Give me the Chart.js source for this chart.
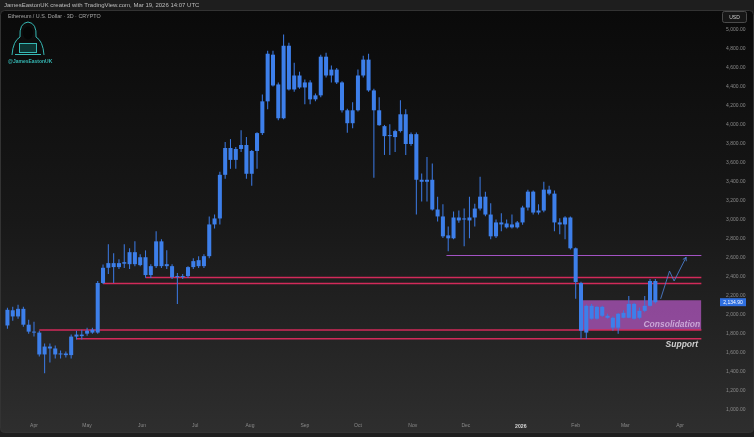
<!DOCTYPE html>
<html>
<head>
<meta charset="utf-8">
<title>Ethereum / U.S. Dollar - 3D</title>
<script src="https://cdn.jsdelivr.net/npm/chart.js@4.4.1/dist/chart.umd.min.js"></script>
<style>
  html, body { margin: 0; padding: 0; background: #1c1c1c; }
  #wrap { width: 754px; height: 437px; position: relative; }
</style>
</head>
<body>
<div id="wrap"><canvas id="ethChart"></canvas></div>
<script>
// ETH/USD 3-day candles (days counted from 1 Apr 2025)
const firstCandleDay = -15;
const candleStep = 3;

const opens = [1890,2050,1985,2065,1898,1825,1815,1585,1668,1648, 1585,1595,1578,1773,1794,1804,1846,1815,2337,2497,
  2546,2504,2540,2535,2661,2525,2608,2420,2514,2775, 2514,2514,2399,2410,2410,2504,2577,2514,2619,2953,
  3016,3475,3757,3632,3747,3789,3486,3726,3914,4248, 4739,4426,4070,4833,4373,4520,4394,4447,4269,4311,
  4718,4520,4582,4447,4154,4018,4154,4520,4687,4363, 4154,3987,3882,3872,3935,4112,3799,3903,3423,3402,
  3423,3110,3037,2807,2807,3026,3005,2995,3026,3120, 3245,3057,2828,2974,2963,2922,2922,2974,3131,3298,
  3078,3099,3319,3277,2974,2953,3026,2702,2337,1815, 2097,1961,2086,1992,1971,1867,2023,1971,2117,1971,
  2044,2097,2358];
const highs = [2076,2086,2107,2086,1950,1929,1835,1700,1700,1679, 1627,1616,1794,1835,1846,1867,1867,2358,2532,2744,
  2650,2587,2744,2702,2775,2640,2680,2535,2880,2796, 2681,2535,2441,2431,2514,2598,2619,2640,3037,3057,
  3507,3820,3851,3768,3945,3872,3736,3924,4321,4781, 4781,4447,4951,4864,4655,4560,4478,4470,4330,4739,
  4760,4624,4600,4460,4170,4238,4582,4728,4749,4380, 4290,4000,4008,3950,4259,4164,3920,3920,3490,3663,
  3594,3245,3165,2932,3090,3099,3120,3245,3170,3454, 3298,3175,3005,3070,3005,3057,2990,3150,3319,3310,
  3165,3402,3360,3310,3019,3040,3037,2710,2350,2110, 2117,2097,2097,2013,1985,2020,2050,2201,2130,2080,
  2201,2379,2379];
const lows = [1856,1940,1961,1877,1804,1773,1564,1386,1501,1543, 1543,1553,1543,1742,1742,1783,1804,1804,2326,2431,
  2337,2483,2494,2483,2514,2514,2392,2389,2494,2494, 2483,2379,2117,2379,2389,2483,2494,2494,2598,2911,
  2953,3434,3538,3538,3716,3434,3360,3538,3893,4164, 4405,4050,4060,4363,4350,4380,4217,4217,4250,4290,
  4500,4447,4430,4130,3917,3966,4140,4500,4350,3444, 3990,3684,3684,3716,3920,3684,3780,3057,3193,3193,
  3100,2984,2810,2671,2796,2970,2723,2807,2932,3100, 3040,2796,2810,2880,2911,2911,2910,2950,3100,3057,
  3057,3080,3260,2880,2849,2796,2690,2170,1749,1749, 1950,1950,1980,1961,1835,1804,1965,1965,1950,1955,
  2030,2090,2120];
const closes = [2055,1985,2065,1898,1825,1815,1585,1668,1648,1585, 1595,1578,1773,1794,1778,1835,1815,2337,2497,2546,
  2504,2546,2556,2661,2535,2608,2420,2514,2775,2514, 2535,2399,2410,2399,2504,2567,2514,2619,2953,3016,
  3475,3757,3632,3747,3789,3486,3726,3914,4248,4749, 4415,4070,4833,4373,4520,4394,4447,4269,4311,4718,
  4520,4582,4447,4154,4018,4154,4520,4687,4363,4154, 3997,3882,3893,3935,4112,3799,3903,3423,3402,3423,
  3110,3037,2828,2838,3026,2995,3016,3026,3120,3245, 3057,2828,2974,2953,2922,2953,2974,3131,3298,3078,
  3099,3319,3277,2974,2953,3026,2702,2347,1835,2097, 1961,2086,1992,1971,1867,2013,1971,2117,1961,2044,
  2097,2358,2134.90];

const monthTicks = [0, 30, 61, 91, 122, 153, 183, 214, 244, 275, 306, 334, 365];
const monthLabels = ['Apr', 'May', 'Jun', 'Jul', 'Aug', 'Sep', 'Oct', 'Nov', 'Dec', '2026', 'Feb', 'Mar', 'Apr'];
const priceTicks = [1000, 1200, 1400, 1600, 1800, 2000, 2200, 2400, 2600, 2800, 3000,
  3200, 3400, 3600, 3800, 4000, 4200, 4400, 4600, 4800, 5000];

// drawn levels and notes
const levelPrices = [2394, 2331, 1843, 1749];
const levelStarts = [63, 39, 3, 24];
const levelEnd = 377;
const targetPrice = 2626;
const targetStart = 233;
const boxTop = 2154;
const boxBottom = 1843;
const boxStart = 309;
const arrowDays = [354, 359, 361.6, 368.4];
const arrowPrices = [2170, 2462, 2358, 2608];
const lastPrice = 2134.90;

const candleBlue = '#3d7fea';
const levelRed = '#d22a5a';
const teal = '#36b8b4';

Chart.defaults.font.family = "'Liberation Sans', Arial, sans-serif";

const candleDays = opens.map((_, i) => firstCandleDay + i * candleStep);

function segment(x1, x2, y) {
  return [{ x: x1, y }, { x: x2, y }];
}

const datasets = [];

// consolidation box (top fills down to bottom)
datasets.push({
  type: 'line', data: segment(boxStart, levelEnd, boxTop), borderWidth: 0, borderColor: 'transparent',
  pointRadius: 0, fill: '+1', backgroundColor: 'rgba(176, 86, 190, 0.76)', order: 20
});
datasets.push({
  type: 'line', data: segment(boxStart, levelEnd, boxBottom), borderWidth: 0, borderColor: 'transparent',
  pointRadius: 0, fill: false, order: 21
});

levelPrices.forEach((p, k) => {
  datasets.push({
    type: 'line', data: segment(levelStarts[k], levelEnd, p), borderColor: levelRed, borderWidth: 1.5,
    pointRadius: 0, fill: false, order: 10
  });
});
datasets.push({
  type: 'line', data: segment(targetStart, levelEnd, targetPrice), borderColor: '#a353c4', borderWidth: 1.1,
  pointRadius: 0, fill: false, order: 10
});

// wicks then bodies
datasets.push({
  type: 'bar', grouped: false, order: 2,
  data: candleDays.map((d, i) => ({ x: d, y: [lows[i], highs[i]] })),
  backgroundColor: '#3a76dc', barPercentage: 0.2, categoryPercentage: 1
});
datasets.push({
  type: 'bar', grouped: false, order: 1, minBarLength: 1,
  data: candleDays.map((d, i) => ({ x: d, y: [opens[i], closes[i]] })),
  backgroundColor: candleBlue, barPercentage: 0.76, categoryPercentage: 1
});

const arrowIndex = datasets.length;
datasets.push({
  type: 'line', data: arrowDays.map((d, i) => ({ x: d, y: arrowPrices[i] })),
  borderColor: '#4f86e0', borderWidth: 0.8, pointRadius: 0, fill: false, tension: 0, order: 0
});

function roundRect(ctx, x, y, w, h, r) {
  ctx.beginPath();
  ctx.moveTo(x + r, y);
  ctx.lineTo(x + w - r, y);
  ctx.quadraticCurveTo(x + w, y, x + w, y + r);
  ctx.lineTo(x + w, y + h - r);
  ctx.quadraticCurveTo(x + w, y + h, x + w - r, y + h);
  ctx.lineTo(x + r, y + h);
  ctx.quadraticCurveTo(x, y + h, x, y + h - r);
  ctx.lineTo(x, y + r);
  ctx.quadraticCurveTo(x, y, x + r, y);
  ctx.closePath();
}

const backdrop = {
  id: 'backdrop',
  beforeDraw(chart) {
    const { ctx, width, height } = chart;
    ctx.save();
    ctx.fillStyle = '#1e1e1e';
    ctx.fillRect(0, 0, width, height);
    const g = ctx.createLinearGradient(0, 11, 0, 432);
    g.addColorStop(0, '#0a0a0a');
    g.addColorStop(0.5, '#181818');
    g.addColorStop(1, '#2e2e2e');
    ctx.fillStyle = g;
    roundRect(ctx, 0.5, 10.5, width - 1, 422, 4);
    ctx.fill();
    ctx.strokeStyle = '#333';
    ctx.lineWidth = 1;
    ctx.stroke();
    ctx.restore();
  },
  afterDraw(chart) {
    const { ctx } = chart;
    const xs = chart.scales.x, ys = chart.scales.y;
    ctx.save();

    // header
    ctx.fillStyle = '#bdbdbd';
    ctx.font = "6px 'Liberation Sans', Arial, sans-serif";
    ctx.textBaseline = 'middle';
    ctx.fillText('JamesEastonUK created with TradingView.com, Mar 19, 2026 14:07 UTC', 4, 5);
    ctx.fillStyle = '#a8a8a8';
    ctx.font = "5.4px 'Liberation Sans', Arial, sans-serif";
    ctx.fillText('Ethereum / U.S. Dollar \u00b7 3D \u00b7 CRYPTO', 8, 17);

    // logo
    ctx.strokeStyle = teal;
    ctx.lineWidth = 1;
    ctx.beginPath();
    ctx.moveTo(12, 55);
    ctx.quadraticCurveTo(13, 41, 20, 37);
    ctx.quadraticCurveTo(19, 23, 28, 22);
    ctx.quadraticCurveTo(37, 23, 36, 37);
    ctx.quadraticCurveTo(43, 41, 44, 55);
    ctx.stroke();
    ctx.fillStyle = '#050505';
    ctx.beginPath();
    ctx.ellipse(28, 33, 5, 6.5, 0, 0, Math.PI * 2);
    ctx.fill();
    ctx.fillStyle = '#0d3533';
    ctx.fillRect(19, 43, 18, 10);
    ctx.strokeRect(19.5, 43.5, 17, 9);
    ctx.beginPath();
    ctx.moveTo(15, 54.5);
    ctx.lineTo(41, 54.5);
    ctx.stroke();
    ctx.fillStyle = teal;
    ctx.font = "bold 5px 'Liberation Sans', Arial, sans-serif";
    ctx.fillText('@JamesEastonUK', 8, 62);

    // USD box
    ctx.strokeStyle = '#4a4a4a';
    roundRect(ctx, 722.5, 11.5, 24, 11, 2);
    ctx.fillStyle = '#161616';
    ctx.fill();
    ctx.stroke();
    ctx.fillStyle = '#cfcfcf';
    ctx.font = "5px 'Liberation Sans', Arial, sans-serif";
    ctx.textAlign = 'center';
    ctx.fillText('USD', 734.5, 17.5);

    // last price tag
    const py = ys.getPixelForValue(lastPrice);
    ctx.fillStyle = '#2f6fe0';
    ctx.fillRect(720, py - 4, 26, 8);
    ctx.fillStyle = '#ffffff';
    ctx.fillText(lastPrice.toLocaleString('en-US', { minimumFractionDigits: 2 }), 733, py + 0.3);

    // notes
    ctx.textAlign = 'right';
    ctx.font = "italic bold 8.5px 'Liberation Sans', Arial, sans-serif";
    ctx.fillStyle = '#caa6d6';
    ctx.fillText('Consolidation', xs.getPixelForValue(376.3), ys.getPixelForValue(1898));
    ctx.fillStyle = '#d0d0d0';
    ctx.fillText('Support', xs.getPixelForValue(375.2), ys.getPixelForValue(1690));

    // arrow head
    const pts = chart.getDatasetMeta(arrowIndex).data;
    const a = pts[pts.length - 2], b = pts[pts.length - 1];
    const ang = Math.atan2(b.y - a.y, b.x - a.x);
    ctx.strokeStyle = '#4f86e0';
    ctx.lineWidth = 0.8;
    ctx.beginPath();
    ctx.moveTo(b.x - 4 * Math.cos(ang - 0.5), b.y - 4 * Math.sin(ang - 0.5));
    ctx.lineTo(b.x, b.y);
    ctx.lineTo(b.x - 4 * Math.cos(ang + 0.5), b.y - 4 * Math.sin(ang + 0.5));
    ctx.stroke();
    ctx.restore();
  }
};

new Chart(document.getElementById('ethChart'), {
  type: 'bar',
  data: { datasets },
  plugins: [backdrop],
  options: {
    responsive: true, maintainAspectRatio: false, animation: false,
    layout: { padding: { top: 11, left: 0, right: 0, bottom: 0 } },
    plugins: { legend: { display: false }, tooltip: { enabled: false } },
    scales: {
      x: {
        type: 'linear', min: -19.2, max: 384.7, offset: false,
        grid: { display: false, drawTicks: false }, border: { display: false },
        afterBuildTicks: s => { s.ticks = monthTicks.map(v => ({ value: v })); },
        afterFit: s => { s.height = 22; },
        ticks: {
          autoSkip: false, maxRotation: 0, padding: 8,
          callback: v => monthLabels[monthTicks.indexOf(v)] || '',
          color: c => (c.tick && c.tick.value === 275 ? '#d6d6d6' : '#8a8a8a'),
          font: c => (c.tick && c.tick.value === 275 ? { size: 5.2, weight: 'bold' } : { size: 5 })
        }
      },
      y: {
        position: 'right', min: 948, max: 5167,
        grid: { display: false, drawTicks: false }, border: { display: false },
        afterBuildTicks: s => { s.ticks = priceTicks.map(v => ({ value: v })); },
        afterFit: s => { s.width = 39; },
        ticks: {
          padding: 11, color: '#8a8a8a', font: { size: 5 },
          callback: v => v.toLocaleString('en-US', { minimumFractionDigits: 2, maximumFractionDigits: 2 })
        }
      }
    }
  }
});
</script>
</body>
</html>
